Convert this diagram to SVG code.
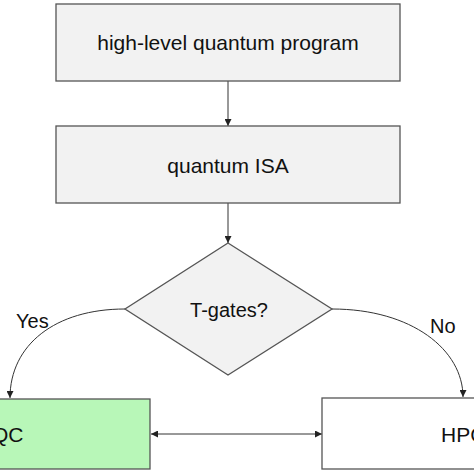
<svg xmlns="http://www.w3.org/2000/svg" width="474" height="474" viewBox="0 0 474 474">
<style>
.box{fill:#f2f2f2;stroke:#555;stroke-width:1.3}
.t{font-family:"Liberation Sans",Arial,sans-serif;font-size:21px;fill:#111}
.lbl{font-family:"Liberation Sans",Arial,sans-serif;font-size:20px;fill:#111}
.c{fill:none;stroke:#333;stroke-width:1}
</style>
<defs>
<marker id="ah" viewBox="0 0 10 10" refX="10" refY="5" markerWidth="7" markerHeight="7" markerUnits="userSpaceOnUse" orient="auto-start-reverse">
<path d="M0,0 L10,5 L0,10 z" fill="#222"/>
</marker>
</defs>
<rect width="474" height="474" fill="#fff"/>
<g id="connectors">
<line class="c" x1="228" y1="81" x2="228" y2="126" marker-end="url(#ah)"/>
<line class="c" x1="228" y1="203" x2="228" y2="243" marker-end="url(#ah)"/>
<path class="c" d="M125,309 C55,309 10,345 10,398" marker-end="url(#ah)"/>
<path class="c" d="M332,309 C412,309 463,350 463,397" marker-end="url(#ah)"/>
<line class="c" x1="151" y1="434" x2="322" y2="434" marker-start="url(#ah)" marker-end="url(#ah)"/>
</g>
<g id="program">
<rect class="box" x="56" y="4" width="344" height="77"/>
<text class="t" x="228" y="50" text-anchor="middle">high-level quantum program</text>
</g>
<g id="isa">
<rect class="box" x="56" y="126" width="344" height="77"/>
<text class="t" x="228" y="173" text-anchor="middle">quantum ISA</text>
</g>
<g id="decision">
<polygon class="box" points="228,243 332,309 228,375 125,309"/>
<text class="lbl" x="229" y="317" text-anchor="middle">T-gates?</text>
</g>
<g id="labels">
<text class="lbl" x="16" y="328">Yes</text>
<text class="lbl" x="430" y="333">No</text>
</g>
<g id="qc">
<rect x="-10" y="399" width="160" height="70" fill="#b8f7b8" stroke="#555" stroke-width="1.3"/>
<text class="t" x="-8" y="442">QC</text>
</g>
<g id="hpc">
<rect x="322" y="398" width="170" height="71" fill="#fff" stroke="#555" stroke-width="1.3"/>
<text class="t" x="441" y="442">HPC</text>
</g>
</svg>
